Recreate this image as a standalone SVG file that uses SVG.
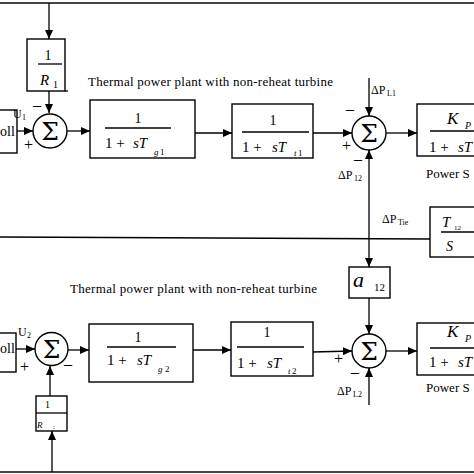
<svg xmlns="http://www.w3.org/2000/svg" width="474" height="474" viewBox="0 0 474 474">
<defs>
<marker id="ah" markerWidth="9" markerHeight="8" refX="9" refY="4" orient="auto" markerUnits="userSpaceOnUse">
<path d="M0,0 L9,4 L0,8 Z" fill="#000"/>
</marker>
<style>
.ln{stroke:#000;stroke-width:1.3;fill:none}
.bx{stroke:#000;stroke-width:1.4;fill:#fff}
.t{font-family:"Liberation Serif","Times New Roman",serif;fill:#000}
.i{font-style:italic}
.sig{font-family:"DejaVu Serif","Liberation Serif",serif;font-size:25px;text-anchor:middle}
</style>
</defs>
<rect width="474" height="474" fill="#fff"/>

<g id="connectors">
<line x1="0" y1="3" x2="474" y2="3" stroke="#444" stroke-width="2"/>
<line x1="0" y1="472" x2="474" y2="472" stroke="#444" stroke-width="2"/>
<line class="ln" x1="49" y1="3" x2="49" y2="39" marker-end="url(#ah)"/>
<line class="ln" x1="49" y1="91" x2="49" y2="113" marker-end="url(#ah)"/>
<line class="ln" x1="17" y1="131" x2="33" y2="131" marker-end="url(#ah)"/>
<line class="ln" x1="67" y1="131" x2="90" y2="131" marker-end="url(#ah)"/>
<line class="ln" x1="195" y1="133" x2="232" y2="133" marker-end="url(#ah)"/>
<line class="ln" x1="313" y1="133" x2="352" y2="133" marker-end="url(#ah)"/>
<line class="ln" x1="369" y1="78" x2="369" y2="116" marker-end="url(#ah)"/>
<line class="ln" x1="386" y1="133" x2="417" y2="133" marker-end="url(#ah)"/>
<line class="ln" x1="369" y1="238" x2="369" y2="150" marker-end="url(#ah)"/>
<line class="ln" x1="369" y1="238" x2="369" y2="267" marker-end="url(#ah)"/>
<line class="ln" x1="0" y1="237" x2="430" y2="239"/>
<line class="ln" x1="369" y1="298" x2="369" y2="334" marker-end="url(#ah)"/>
<line class="ln" x1="16" y1="349" x2="35" y2="349" marker-end="url(#ah)"/>
<line class="ln" x1="68" y1="350" x2="89" y2="350" marker-end="url(#ah)"/>
<line class="ln" x1="193" y1="350" x2="231" y2="350" marker-end="url(#ah)"/>
<line class="ln" x1="313" y1="352" x2="352" y2="351" marker-end="url(#ah)"/>
<line class="ln" x1="369" y1="405" x2="369" y2="368" marker-end="url(#ah)"/>
<line class="ln" x1="386" y1="351" x2="417" y2="351" marker-end="url(#ah)"/>
<line class="ln" x1="50" y1="396" x2="50" y2="366" marker-end="url(#ah)"/>
<line class="ln" x1="52" y1="472" x2="52" y2="431" marker-end="url(#ah)"/>
</g>

<text class="t" x="88" y="86" font-size="13" textLength="245">Thermal power plant with non-reheat turbine</text>
<text class="t" x="70" y="293" font-size="13" textLength="247">Thermal power plant with non-reheat turbine</text>

<g id="ctrl1">
<rect class="bx" x="-2" y="110" width="19" height="43"/>
<text class="t" x="0" y="136" font-size="14">oll</text>
</g>
<g id="R1">
<rect class="bx" x="27" y="39" width="38" height="52"/>
<line class="ln" x1="65" y1="91" x2="68" y2="91"/>
<text class="t" x="48" y="60" font-size="14" text-anchor="middle">1</text>
<line class="ln" x1="38" y1="64" x2="62" y2="64"/>
<text class="t i" x="40" y="85" font-size="15">R</text>
<text class="t" x="53" y="88" font-size="10">1</text>
</g>
<g id="sum1">
<circle class="bx" cx="50" cy="131" r="17"/>
<text class="t sig" x="50" y="140">Σ</text>
<text class="t" x="13" y="118" font-size="12">U</text>
<text class="t" x="22" y="120" font-size="8">1</text>
<text class="t" x="33" y="110" font-size="16">–</text>
<text class="t" x="24" y="150" font-size="16">+</text>
</g>
<g id="Tg1">
<rect class="bx" x="90" y="100" width="105" height="58"/>
<text class="t" x="138" y="123" font-size="14" text-anchor="middle">1</text>
<line class="ln" x1="105" y1="128" x2="171" y2="128"/>
<text class="t" x="105" y="148" font-size="15">1 +</text>
<text class="t i" x="133" y="148" font-size="15">sT</text>
<text class="t i" x="154" y="155" font-size="9">g</text>
<text class="t" x="160" y="155" font-size="9">1</text>
</g>
<g id="Tt1">
<rect class="bx" x="232" y="104" width="81" height="54"/>
<text class="t" x="273" y="125" font-size="14" text-anchor="middle">1</text>
<line class="ln" x1="242" y1="132" x2="309" y2="132"/>
<text class="t" x="242" y="152" font-size="15">1 +</text>
<text class="t i" x="272" y="152" font-size="15">sT</text>
<text class="t i" x="294" y="156" font-size="9">t</text>
<text class="t" x="298" y="156" font-size="9">1</text>
</g>
<g id="sum2">
<circle class="bx" cx="369" cy="133" r="17"/>
<text class="t sig" x="369" y="142">Σ</text>
<text class="t" x="371" y="94" font-size="12">ΔP</text>
<text class="t" x="387" y="96" font-size="8">L1</text>
<text class="t" x="346" y="114" font-size="16">–</text>
<text class="t" x="342" y="151" font-size="16">+</text>
<text class="t" x="354" y="164" font-size="16">–</text>
<text class="t" x="338" y="179" font-size="12">ΔP</text>
<text class="t" x="354" y="181" font-size="8">12</text>
</g>
<g id="PS1">
<rect class="bx" x="417" y="104" width="60" height="52"/>
<text class="t i" x="447" y="124" font-size="17">K</text>
<text class="t i" x="465" y="129" font-size="10">P</text>
<line class="ln" x1="430" y1="131" x2="474" y2="131"/>
<text class="t" x="429" y="152" font-size="15">1 +</text>
<text class="t i" x="458" y="152" font-size="15">sT</text>
<text class="t" x="426" y="178" font-size="13">Power S</text>
</g>
<g id="T12">
<rect class="bx" x="430" y="207" width="50" height="50"/>
<text class="t" x="382" y="223" font-size="12">ΔP</text>
<text class="t" x="398" y="225" font-size="8">Tie</text>
<text class="t i" x="442" y="227" font-size="15">T</text>
<text class="t" x="454" y="230" font-size="7">12</text>
<line class="ln" x1="441" y1="232" x2="474" y2="232"/>
<text class="t i" x="446" y="251" font-size="14">S</text>
</g>
<g id="a12">
<rect class="bx" x="349" y="267" width="41" height="31"/>
<text class="t i" x="353" y="287" font-size="22">a</text>
<text class="t" x="374" y="291" font-size="11">12</text>
</g>

<g id="ctrl2">
<rect class="bx" x="-2" y="333" width="18" height="39"/>
<text class="t" x="0" y="353" font-size="14">oll</text>
</g>
<g id="sum3">
<circle class="bx" cx="51.5" cy="349" r="16.5"/>
<text class="t sig" x="51.5" y="358">Σ</text>
<text class="t" x="18" y="336" font-size="12">U</text>
<text class="t" x="27" y="338" font-size="8">2</text>
<text class="t" x="20" y="372" font-size="16">+</text>
<text class="t" x="64" y="369" font-size="16">–</text>
</g>
<g id="R2">
<rect class="bx" x="36" y="396" width="31" height="35"/>
<line class="ln" x1="36" y1="413" x2="67" y2="413"/>
<text class="t" x="45" y="408" font-size="10">1</text>
<text class="t i" x="37" y="428" font-size="9">R</text>
<text class="t" x="53" y="429" font-size="7">:</text>
</g>
<g id="Tg2">
<rect class="bx" x="89" y="324" width="104" height="58"/>
<text class="t" x="138" y="342" font-size="14" text-anchor="middle">1</text>
<line class="ln" x1="107" y1="347" x2="176" y2="347"/>
<text class="t" x="107" y="365" font-size="15">1 +</text>
<text class="t i" x="137" y="365" font-size="15">sT</text>
<text class="t i" x="158" y="372" font-size="9">g</text>
<text class="t" x="165" y="372" font-size="9">2</text>
</g>
<g id="Tt2">
<rect class="bx" x="231" y="322" width="82" height="54"/>
<text class="t" x="267" y="337" font-size="14" text-anchor="middle">1</text>
<line class="ln" x1="237" y1="347" x2="304" y2="347"/>
<text class="t" x="237" y="368" font-size="15">1 +</text>
<text class="t i" x="267" y="368" font-size="15">sT</text>
<text class="t i" x="288" y="374" font-size="9">t</text>
<text class="t" x="292" y="374" font-size="9">2</text>
</g>
<g id="sum4">
<circle class="bx" cx="369" cy="351" r="17"/>
<text class="t sig" x="369" y="360">Σ</text>
<text class="t" x="334" y="364" font-size="16">+</text>
<text class="t" x="351" y="377" font-size="16">–</text>
<text class="t" x="337" y="395" font-size="12">ΔP</text>
<text class="t" x="353" y="397" font-size="8">L2</text>
</g>
<g id="PS2">
<rect class="bx" x="417" y="323" width="60" height="52"/>
<text class="t i" x="447" y="337" font-size="17">K</text>
<text class="t i" x="465" y="342" font-size="10">P</text>
<line class="ln" x1="430" y1="348" x2="474" y2="348"/>
<text class="t" x="429" y="367" font-size="15">1 +</text>
<text class="t i" x="458" y="367" font-size="15">sT</text>
<text class="t" x="426" y="392" font-size="13">Power S</text>
</g>
</svg>
